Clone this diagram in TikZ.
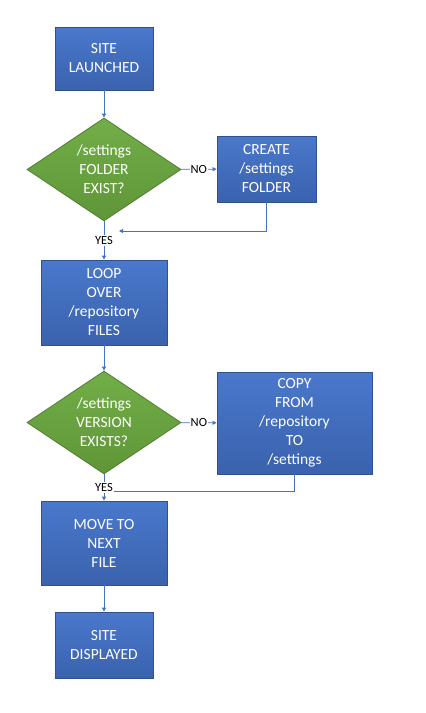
\documentclass[tikz,border=0pt]{standalone}
\usepackage{fontspec}
\setmainfont{Carlito}
\usepackage{xcolor}
\usepackage{tikz}
\usetikzlibrary{arrows.meta,positioning,shapes.geometric}
\definecolor{boxblue}{HTML}{4A78CC}
\definecolor{boxblueD}{HTML}{3A62AD}
\definecolor{boxedge}{HTML}{2F528F}
\definecolor{askgreen}{HTML}{72AE48}
\definecolor{askgreenD}{HTML}{5F9638}
\definecolor{askedge}{HTML}{507E32}
\definecolor{flowline}{HTML}{4472C4}

\begin{document}
\begin{tikzpicture}[x=1pt,y=-1pt,
  stepbox/.style={rectangle,draw=boxedge,line width=0.8pt,top color=boxblue,bottom color=boxblueD,
    text=white,align=center,font=\fontsize{15.5pt}{19pt}\selectfont,inner sep=0pt},
  askbox/.style={diamond,aspect=1.5,draw=askedge,line width=0.8pt,top color=askgreen,bottom color=askgreenD,
    text=white,align=center,font=\fontsize{15.5pt}{19pt}\selectfont,inner sep=0pt,
    minimum width=154pt,minimum height=103pt},
  flow/.style={draw=flowline,line width=0.8pt,-{Triangle[length=4pt,width=4pt]}},
  lbl/.style={fill=white,inner sep=1pt,text=black,font=\fontsize{12.5pt}{14pt}\selectfont}]
  \useasboundingbox[fill=white] (0,0) rectangle (426,713);
  % main column
  \node[stepbox,minimum width=98pt,minimum height=63pt] (launch) at (104,58.5) {SITE\\LAUNCHED};
  \node[askbox] (q1) at (104,169.5) {/settings\\FOLDER\\EXIST?};
  \node[stepbox,minimum width=99pt,minimum height=66pt] (create) at (266.5,169) {CREATE\\/settings\\FOLDER};
  \node[stepbox,minimum width=126pt,minimum height=85pt] (loop) at (104,302.5) {LOOP\\OVER\\/repository\\FILES};
  \node[askbox] (q2) at (104,422.5) {/settings\\VERSION\\EXISTS?};
  \node[stepbox,minimum width=155pt,minimum height=102pt] (copy) at (294.5,423) {COPY\\FROM\\/repository\\TO\\/settings};
  \node[stepbox,minimum width=126pt,minimum height=84pt] (move) at (104,543) {MOVE TO\\NEXT\\FILE};
  \node[stepbox,minimum width=98pt,minimum height=66pt] (disp) at (104,645) {SITE\\DISPLAYED};
  % return points
  \coordinate (back1) at (119,231);
  \coordinate (back2) at (106,491);
  % connectors
  \draw[flow] (launch) -- (q1);
  \draw[flow] (q1) -- node[lbl]{NO} (create);
  \draw[flow] (create.south) |- (back1);
  \draw[flow] (q1) -- node[lbl]{YES} (loop);
  \draw[flow] (loop) -- (q2);
  \draw[flow] (q2) -- node[lbl]{NO} (copy);
  \draw[flow] (copy.south) |- (back2);
  \draw[flow] (q2) -- node[lbl]{YES} (move);
  \draw[flow] (move) -- (disp);
\end{tikzpicture}
\end{document}
